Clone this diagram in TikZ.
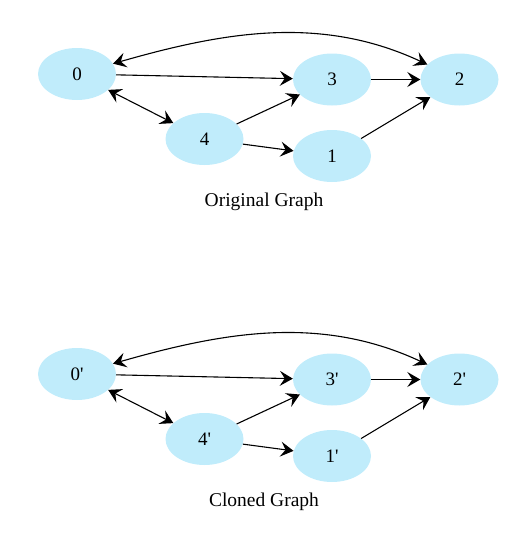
\documentclass[tikz,border=0pt]{standalone}
\usepackage{fontspec}
\setmainfont{Liberation Serif}
\usepackage{tikz}
\usetikzlibrary{arrows.meta,shapes.geometric,positioning}
\usepackage{xcolor}
\definecolor{gnodeblue}{RGB}{192,236,251}
\newcommand{\pr}{\textquotesingle}
\tikzstyle{vertex} = [ellipse, minimum width=78pt, minimum height=52pt, inner sep=0pt, fill=gnodeblue, font=\fontsize{19}{22}\selectfont]
\tikzstyle{caption} = [anchor=base, inner sep=0pt, font=\fontsize{19.5}{23}\selectfont]
\tikzstyle{arrow} = [line width=1.1pt, -{Stealth[length=13pt,width=15pt,inset=5pt]}]
\tikzstyle{twoway} = [line width=1.1pt, {Stealth[length=13pt,width=15pt,inset=5pt]}-{Stealth[length=13pt,width=15pt,inset=5pt]}]

\begin{document}
\begin{tikzpicture}[x=1pt,y=-1pt]
\useasboundingbox (0,0) rectangle (530,544);
% Original graph
\node (zero) [vertex] at (77,74) {0};
\node (four) [vertex] at (204.5,139) {4};
\node (three) [vertex] at (332,79.5) {3};
\node (one) [vertex] at (332,156) {1};
\node (two) [vertex] at (459.5,79.5) {2};
\node (orig) [caption] at (264,206) {Original Graph};

\draw[twoway] (zero) to[out=16, in=155, looseness=0.95] (two);
\draw[arrow] (zero) -- (three);
\draw[twoway] (zero) -- (four);
\draw[arrow] (four) -- (three);
\draw[arrow] (four) -- (one);
\draw[arrow] (three) -- (two);
\draw[arrow] (one) -- (two);

% Cloned graph
\node (zeroc) [vertex] at (77,374) {0\pr};
\node (fourc) [vertex] at (204.5,439) {4\pr};
\node (threec) [vertex] at (332,379.5) {3\pr};
\node (onec) [vertex] at (332,456) {1\pr};
\node (twoc) [vertex] at (459.5,379.5) {2\pr};
\node (clone) [caption] at (264,506) {Cloned Graph};

\draw[twoway] (zeroc) to[out=16, in=155, looseness=0.95] (twoc);
\draw[arrow] (zeroc) -- (threec);
\draw[twoway] (zeroc) -- (fourc);
\draw[arrow] (fourc) -- (threec);
\draw[arrow] (fourc) -- (onec);
\draw[arrow] (threec) -- (twoc);
\draw[arrow] (onec) -- (twoc);
\end{tikzpicture}
\end{document}
